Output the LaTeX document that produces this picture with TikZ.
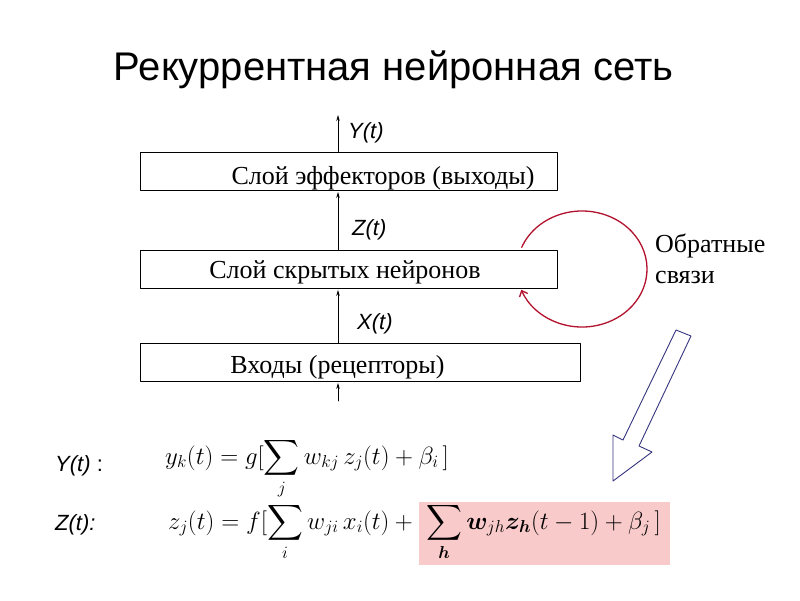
\documentclass[tikz,border=0pt]{standalone}
\usepackage{fontspec}
\setmainfont{Liberation Serif}
\setsansfont{Liberation Sans}
\usepackage{amsmath,bm}
\usetikzlibrary{arrows.meta,positioning}
\definecolor{rnnLoop}{HTML}{B3122E}
\definecolor{rnnNavy}{HTML}{35357F}
\definecolor{rnnPink}{HTML}{F9CACA}

\begin{document}
\begin{tikzpicture}[x=1pt,y=-1pt,>=Stealth,line cap=round,line join=round]
\path[fill=white] (0,0) rectangle (800,600);
\tikzset{layer/.style={draw,fill=white,line width=0.9pt,minimum height=38pt,inner sep=0pt},layertext/.style={anchor=base,inner sep=0pt,font=\fontsize{26}{30}\selectfont},flow/.style={draw,line width=0.8pt,shorten >=1.5pt,-{Stealth[length=6pt,width=3.5pt]}},sig/.style={anchor=base west,inner sep=0pt,font=\sffamily\itshape\fontsize{22}{25}\selectfont},formula/.style={anchor=base west,inner sep=0pt,font=\fontsize{26}{30}\selectfont}}
\node[anchor=base,font=\sffamily\fontsize{40}{44}\selectfont] (title) at (393.5,80) {Рекуррентная нейронная сеть};
% feedback loop, behind the layers
\draw[draw=rnnLoop,line width=1.3pt,-{Straight Barb[length=5pt,width=9pt]}] (582,269) ++(202:65 and 58) arc[start angle=202,end angle=519,x radius=65,y radius=58];
\node[layer,minimum width=417pt] (eff) at (348.5,171) {};
\node[layer,minimum width=417pt] (hid) at (348.5,269) {};
\node[layer,minimum width=440pt] (inp) at (360,362) {};
\node[layertext] (effT) at (383,184) {Слой эффекторов (выходы)};
\node[layertext] (hidT) at (345,278) {Слой скрытых нейронов};
\node[layertext] (inpT) at (337.5,373) {Входы (рецепторы)};
\coordinate (axis) at (338,0);
\coordinate (src) at (338,401);
\coordinate (out) at (338,115);
\draw[flow] (src) -- (inp.south -| axis);
\draw[flow] (inp.north -| axis) -- (hid.south -| axis);
\draw[flow] (hid.north -| axis) -- (eff.south -| axis);
\draw[flow,shorten >=0pt] (eff.north -| axis) -- (out);
\node[sig] (ysig) at (348,138) {Y(t)};
\node[sig] (zsig) at (352,235) {Z(t)};
\node[sig] (xsig) at (357,329) {X(t)};
\node[layertext,anchor=base west] (fbA) at (655,252) {Обратные};
\node[layertext,anchor=base west] (fbB) at (655,283) {связи};
\draw[draw=rnnNavy,line width=0.9pt] (676,330) -- (691,336) -- (639,446) -- (652,452) -- (613,481) -- (613,435) -- (623,440) -- cycle;
% equations
\node[sig] (ylab) at (55,471) {Y(t) \upshape:};
\node[sig] (zlab) at (55,530) {Z(t):};
\node[formula] (yeq) at (165,464) {$\displaystyle y_k(t)=g[\sum_j w_{kj}\,z_j(t)+\beta_i\,]$};
\node[fill=rnnPink,minimum width=251pt,minimum height=63pt,inner sep=0pt] (hl) at (544.5,533.5) {};
\node[formula] (zeq) at (168,529) {$\displaystyle z_j(t)=f[\sum_i w_{ji}\,x_i(t)+{}$};
\node[formula] (zrec) at (426,529) {$\displaystyle\sum_{\bm h}\bm{w}_{jh}\bm{z}_{\bm h}(t-1)+\beta_j\,]$};
\end{tikzpicture}
\end{document}
